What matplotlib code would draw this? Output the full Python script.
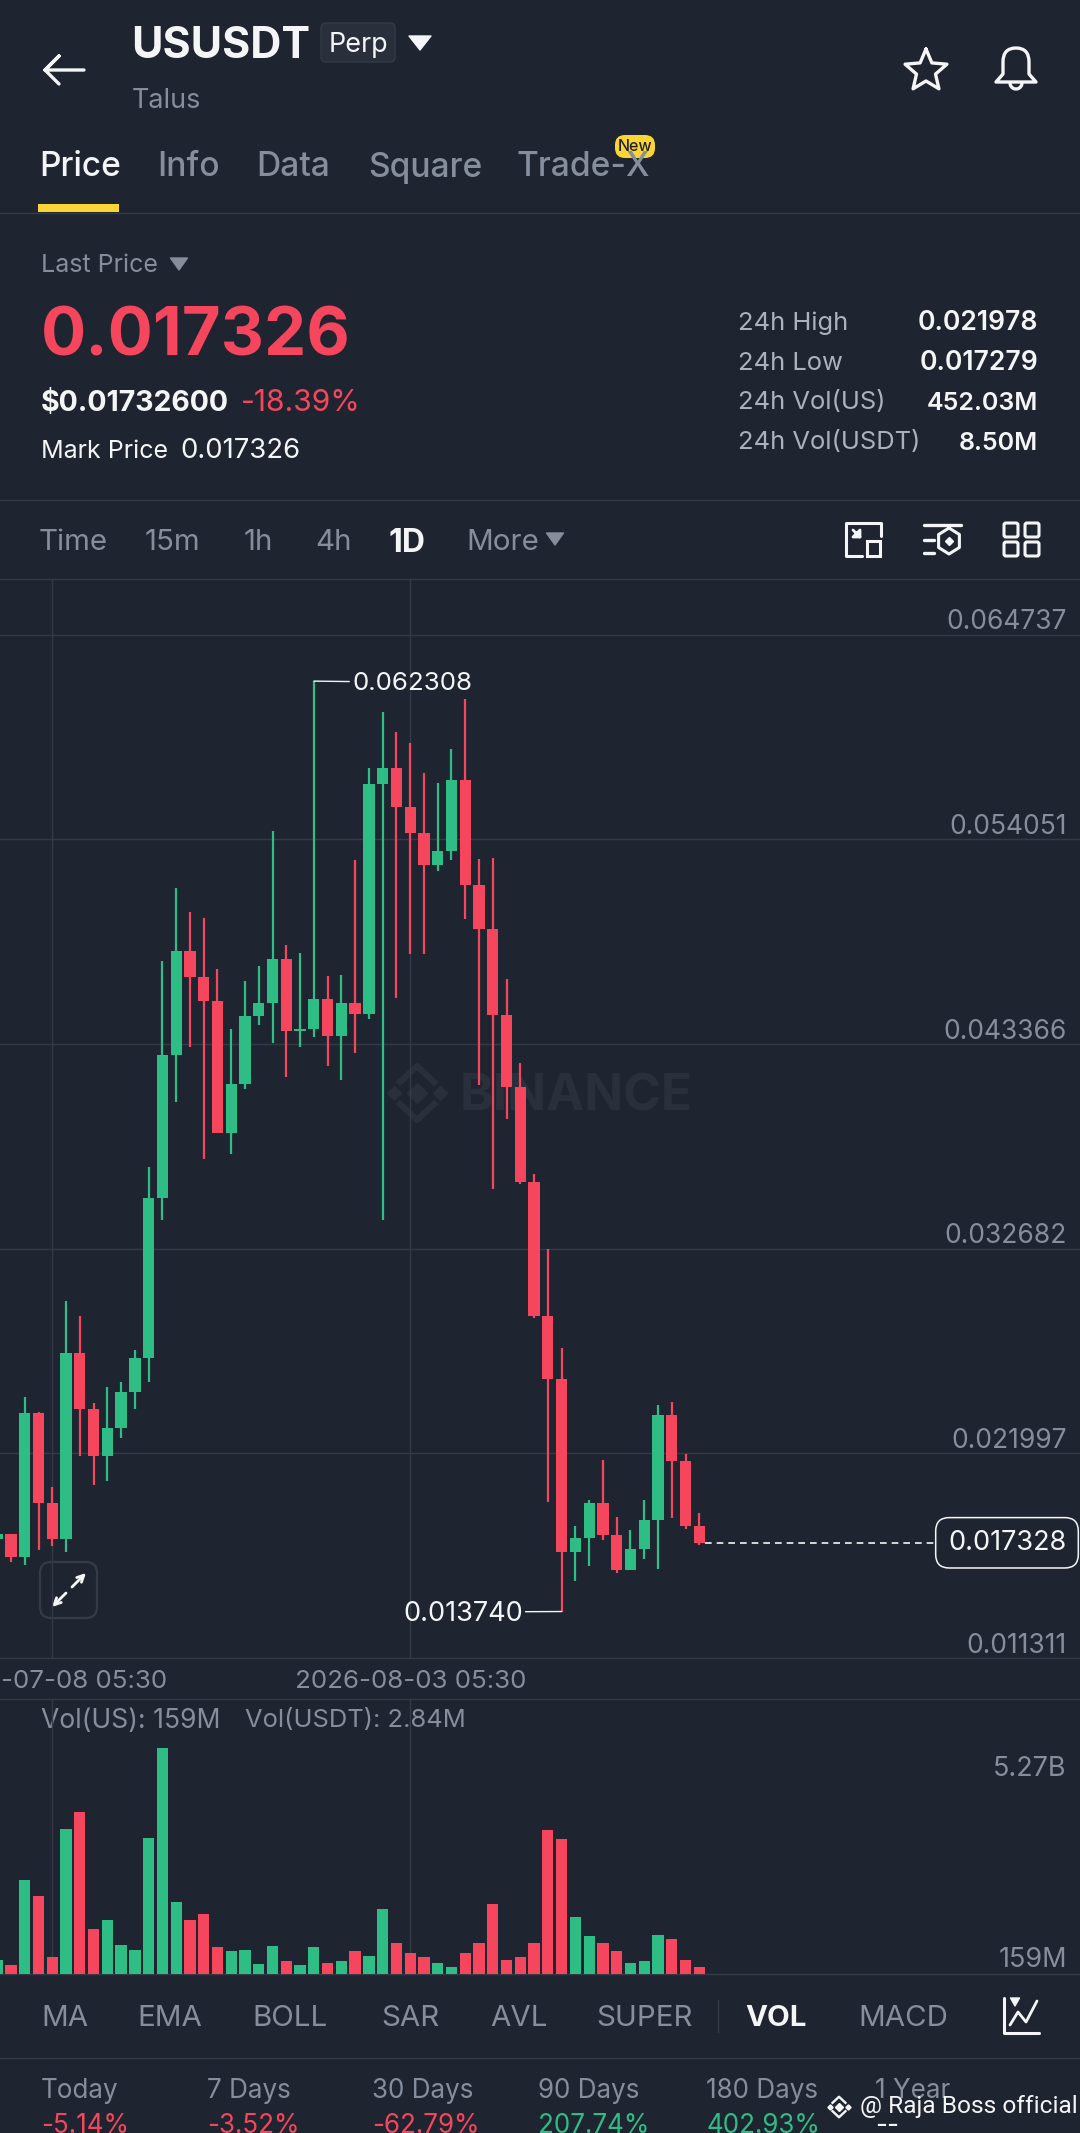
import numpy as np
import matplotlib
matplotlib.use("Agg")
import matplotlib.pyplot as plt
from matplotlib.patches import FancyBboxPatch, Rectangle, Polygon, PathPatch
from matplotlib.path import Path
from matplotlib.transforms import Bbox, IdentityTransform, TransformedBbox

plt.rcParams["font.family"] = ["Inter", "DejaVu Sans"]

BG = "#1f2530"
GRID = "#343b46"
GREY = "#848e9c"
WHITE = "#f4f5f6"
RED = "#f6465d"
GREEN = "#2ebd85"
YELLOW = "#fcd535"
MARK = "#2a303b"

# daily candles, first one is cut by the left edge
opens = [
    .017526, .017772, .016571, .024120, .019421, .017526, .027235, .024297, .021874, .023336,
    .025200, .026974, .035342, .042791, .048235, .046863, .045610, .038719, .041277, .044827,
    .045490, .047787, .044059, .044164, .045714, .043783, .045505, .044931, .056953, .057772,
    .055721, .054364, .052693, .053424, .057130, .051649, .049353, .044879, .041136, .036167,
    .029172, .025878, .016848, .017584, .019431, .017709, .015918, .016978, .018518, .024009,
    .021608, .018226,
]
closes = [
    .017772, .016571, .024088, .019421, .017526, .027235, .024297, .021874, .023336, .025200,
    .026974, .035342, .042791, .048235, .046863, .045610, .038719, .041277, .044827, .045490,
    .047787, .044059, .044148, .045714, .043783, .045505, .044931, .056953, .057772, .055721,
    .054364, .052693, .053424, .057130, .051649, .049353, .044879, .041136, .036167, .029172,
    .025878, .016848, .017584, .019431, .017709, .015918, .016978, .018518, .024009, .021608,
    .018226, .017328,
]
highs = [
    .017772, .017772, .024923, .024156, .020225, .029965, .029182, .024610, .025445, .025737,
    .027392, .036960, .047682, .051493, .050271, .049958, .047265, .044148, .046654, .047452,
    .054468, .048533, .048100, .062308, .046915, .046967, .052970, .057757, .060696, .059636,
    .059062, .057496, .056989, .058749, .061359, .053007, .053090, .046743, .042389, .036590,
    .032649, .027486, .018184, .019541, .021650, .018680, .017986, .019541, .024542, .024688,
    .021942, .018862,
]
lows = [
    .017526, .016341, .016169, .016952, .017176, .016832, .021859, .020345, .020554, .022814,
    .024312, .025737, .034178, .040338, .043193, .037362, .038719, .037608, .041016, .044357,
    .043402, .041643, .043209, .043746, .042217, .041502, .042895, .044670, .034178, .045751,
    .048079, .048079, .052411, .052970, .049906, .041225, .035796, .039466, .036036, .029078,
    .019468, .013740, .015313, .016117, .017490, .015772, .015882, .016503, .015955, .018607,
    .018038, .017234,
]
volumes = [
    327, 210, 2183, 1809, 374, 3368, 3765, 1037, 1240, 655,
    546, 3165, 5270, 1668, 1240, 1380, 624, 515, 546, 218,
    639, 296, 187, 631, 242, 296, 530, 405, 1505, 709,
    476, 374, 234, 148, 468, 702, 1622, 304, 374, 709,
    3345, 3150, 1318, 865, 709, 522, 257, 296, 897, 803,
    304, 159,
]

price_ticks = [0.064737, 0.054051, 0.043366, 0.032682, 0.021997, 0.011311]
date_idx = [4, 30]
date_labels = ["2026-07-08 05:30", "2026-08-03 05:30"]
last_price = 0.017328
high_idx, high_val = 23, 0.062308
low_idx, low_val = 41, 0.013740

tabs = ["Price", "Info", "Data", "Square", "Trade-X"]
periods = ["Time", "15m", "1h", "4h", "1D", "More"]
indicators = ["MA", "EMA", "BOLL", "SAR", "AVL", "SUPER", "VOL", "MACD"]
stat_names = ["24h High", "24h Low", "24h Vol(US)", "24h Vol(USDT)"]
stat_values = ["0.021978", "0.017279", "452.03M", "8.50M"]
perf_names = ["Today", "7 Days", "30 Days", "90 Days", "180 Days", "1 Year"]
perf_values = ["-5.14%", "-3.52%", "-62.79%", "207.74%", "402.93%", "--"]

W, H = 1080, 2133
fig = plt.figure(figsize=(W / 100, H / 100), dpi=100, facecolor=BG)

# everything that is app chrome goes on this one, in screen pixels
ui = fig.add_axes([0, 0, 1, 1], zorder=0)
ui.set_xlim(0, W)
ui.set_ylim(H, 0)
ui.axis("off")


def put(x, y, s, px, color=GREY, weight="normal", ha="left", family=None):
    ui.text(x, y + 4, s, fontsize=px * 0.72, color=color, fontweight=weight, ha=ha, va="center",
            clip_on=True, family=family or ["Inter", "DejaVu Sans"])


def stroke(xs, ys, color=WHITE, lw=2.0):
    ui.plot(xs, ys, color=color, lw=lw, solid_capstyle="round", solid_joinstyle="round")


def tri(x, y, w, h, color):
    ui.add_patch(Polygon([(x - w / 2, y - h / 2), (x + w / 2, y - h / 2), (x, y + h / 2)],
                         fc=color, ec=color, lw=1, joinstyle="round"))


def box(x0, y0, x1, y1, r, fc="none", ec=WHITE, lw=1.5):
    ui.add_patch(FancyBboxPatch((x0 + r, y0 + r), x1 - x0 - 2 * r, y1 - y0 - 2 * r,
                                boxstyle=f"round,pad={r},rounding_size={r}", fc=fc, ec=ec, lw=lw))


def logo(cx, cy, k, color):
    ui.plot([cx], [cy], marker="D", ms=10 * k, color=color, ls="none")
    ui.plot([cx - 23 * k, cx + 23 * k], [cy, cy], marker="D", ms=7 * k, color=color, ls="none")
    for sign in (-1, 1):
        ui.plot([cx - 17 * k, cx, cx + 17 * k], [cy + sign * 11 * k, cy + sign * 27 * k, cy + sign * 11 * k],
                color=color, lw=4.5 * k)


# separators
for y in [212.5, 500, 579, 1699, 1973.5, 2058]:
    ui.plot([0, W], [y, y], color=GRID, lw=1.0)

# header
stroke([84, 45, 59, 45, 59], [70, 70, 56, 70, 84], lw=2.4)
put(131, 42, "USUSDT", 43, WHITE, "bold")
box(321, 23, 395, 62, 5, fc=MARK, ec=GRID, lw=1)
put(358, 40.5, "Perp", 27, WHITE, ha="center")
tri(420, 43, 22, 14, WHITE)
put(132, 96.5, "Talus", 27)

ang = np.linspace(-np.pi / 2, 1.5 * np.pi, 11)
rad = np.tile([22, 10], 6)[:11]
stroke(926 + rad * np.cos(ang), 71 + rad * np.sin(ang), lw=2.4)

bell = Path(
    [(996, 82), (1003, 74), (1003, 62), (1003, 48), (1016, 48), (1029, 48), (1029, 62), (1029, 74), (1036, 82), (996, 82)],
    [Path.MOVETO, Path.LINETO, Path.LINETO, Path.CURVE3, Path.CURVE3, Path.CURVE3, Path.CURVE3, Path.LINETO, Path.LINETO, Path.CLOSEPOLY],
)
ui.add_patch(PathPatch(bell, fc="none", ec=WHITE, lw=2.4, joinstyle="round"))
ca = np.linspace(0, np.pi, 12)
stroke(1016 + 6 * np.cos(ca), 83 + 6 * np.sin(ca), lw=2.4)

# tabs
tab_x = [39, 157, 256, 368, 516]
for i, (x, t) in enumerate(zip(tab_x, tabs)):
    put(x, 163.5, t, 33.5, WHITE if i == 0 else GREY, "medium")
ui.add_patch(Rectangle((38, 204), 81, 8, fc=YELLOW, ec="none"))
box(615, 135, 655, 158, 10, fc=YELLOW, ec="none", lw=0)
put(635, 142.5, "New", 16, "#1e2329", "medium", ha="center")

# price block
put(41, 261.5, "Last Price", 25)
tri(179, 264, 17, 12, GREY)
put(41, 334.5, "0.017326", 67, RED, "bold")
put(41, 399, "$0.01732600", 28.5, WHITE, "bold")
put(241, 399, "-18.39%", 30, RED)
put(41, 447.5, "Mark Price", 25, WHITE)
put(180, 447.5, "0.017326", 27.5, WHITE)

stat_y = [319, 359, 399, 439]
for y, name, val in zip(stat_y, stat_names, stat_values):
    put(738, y, name, 25.5, "#aab2bd")
    put(1038, y, val, 25 if "M" in val else 26.5, WHITE, "semibold", ha="right")

# period row
period_x = [39, 145, 244, 315, 389, 466]
for x, t in zip(period_x, periods):
    put(x, 539, t, 32 if t == "1D" else 29.5, WHITE if t == "1D" else GREY, "bold" if t == "1D" else "normal")
tri(555, 539, 17, 12, GREY)

stroke([846, 846, 862], [540, 556, 556], lw=2.2)
stroke([846, 846, 881, 881], [540, 523, 523, 536], lw=2.2)
ui.add_patch(Rectangle((867, 541), 13, 15, fc="none", ec=WHITE, lw=2.2))
stroke([853, 860, 860, 853, 860], [530, 537, 530, 537, 537], lw=2.0)

stroke([924, 961], [525, 525], lw=2.4)
stroke([924, 934], [540, 540], lw=2.4)
stroke([924, 934], [553, 553], lw=2.4)
ha = np.linspace(-np.pi / 2, 1.5 * np.pi, 7)
stroke(949 + 12 * np.cos(ha), 541 + 13 * np.sin(ha), lw=2.2)
ui.plot([949], [541], marker="D", ms=4, color=WHITE)

for bx in [1004, 1025]:
    for by in [523, 542]:
        box(bx, by, bx + 14, by + 14, 2, lw=2.2)

# watermark, sits under the candles
logo(417, 1093, 1.0, MARK)
put(460, 1093, "BINANCE", 51, MARK, "bold")

# expand button
box(40, 1562, 97, 1618, 11, ec="#363c47", lw=1.6)
ui.annotate("", xy=(86, 1573), xytext=(72, 1587),
            arrowprops=dict(arrowstyle="->", color=WHITE, lw=2, mutation_scale=12, shrinkA=0, shrinkB=0))
ui.annotate("", xy=(52, 1607), xytext=(66, 1593),
            arrowprops=dict(arrowstyle="->", color=WHITE, lw=2, mutation_scale=12, shrinkA=0, shrinkB=0))

# candles
idx = np.arange(len(opens))
colors = [GREEN if c >= o else RED for o, c in zip(opens, closes)]
px_per_bar = 13.765
x_left = 2.75 / px_per_bar
x_right = (W + 2.75) / px_per_bar

ax = fig.add_axes([0, 1 - 1659 / H, 1, (1659 - 580) / H], zorder=1)
ax.patch.set_alpha(0)
ax.set_xlim(x_left, x_right)
ax.set_ylim(0.011262, 0.067586)
for s in ax.spines.values():
    s.set_visible(False)
ax.set_yticks(price_ticks)
ax.set_yticklabels([])
ax.set_xticks(date_idx)
ax.set_xticklabels(date_labels, fontsize=18.7, color=GREY)
ax.tick_params(length=0, pad=8)
ax.grid(True, color=GRID, lw=1.0)
ax.set_axisbelow(True)
# the first date runs off the screen, keep only what the phone shows
for tl in ax.get_xticklabels():
    tl.set_clip_on(True)
    tl.set_clip_box(TransformedBbox(Bbox([[2, 0], [W, H]]), IdentityTransform()))

ax.vlines(idx, lows, highs, color=colors, lw=1.6)
ax.bar(idx, np.abs(np.array(closes) - np.array(opens)), bottom=np.minimum(opens, closes), width=0.82, color=colors)

for v in price_ticks:
    ax.annotate(f"{v:.6f}", xy=(1, v), xycoords=("axes fraction", "data"), xytext=(-9.5, -0.5),
                textcoords="offset points", ha="right", va="bottom", fontsize=19, color=GREY)

ax.annotate(f"{high_val:.6f}", xy=(high_idx, high_val), xytext=(27.5, -2), textcoords="offset points", va="center", ha="left",
            fontsize=18.7, color=WHITE, arrowprops=dict(arrowstyle="-", color=WHITE, lw=1, shrinkA=0, shrinkB=0, relpos=(0, 0.6)))
ax.annotate(f"{low_val:.6f}", xy=(low_idx, low_val), xytext=(-28, -2), textcoords="offset points", va="center", ha="right",
            fontsize=19.5, color=WHITE, arrowprops=dict(arrowstyle="-", color=WHITE, lw=1, shrinkA=0, shrinkB=0, relpos=(1, 0.6)))

ax.plot([705 / W, 935 / W], [last_price, last_price], transform=ax.get_yaxis_transform(), color=WHITE, lw=1.2, dashes=(4, 3))
ax.annotate(f"{last_price:.6f}", xy=(1007 / W, last_price), xycoords=("axes fraction", "data"), ha="center", va="center",
            fontsize=19.5, color=WHITE, bbox=dict(boxstyle="round,pad=0.45,rounding_size=0.5", fc=BG, ec=WHITE, lw=1.1))

# volume
vol = fig.add_axes([0, 1 - 1973.5 / H, 1, (1973.5 - 1699) / H], zorder=1)
vol.patch.set_alpha(0)
vol.set_xlim(x_left, x_right)
vol.set_ylim(0, 6416)
for s in vol.spines.values():
    s.set_visible(False)
vol.set_xticks(date_idx)
vol.set_xticklabels([])
vol.set_yticks([])
vol.tick_params(length=0)
vol.grid(True, axis="x", color=GRID, lw=1.0)
vol.set_axisbelow(True)
vol.bar(idx, volumes, width=0.82, color=colors)
vol.annotate("5.27B", xy=(1, max(volumes)), xycoords=("axes fraction", "data"), xytext=(-9.5, -15),
             textcoords="offset points", ha="right", va="center", fontsize=19.5, color=GREY)
vol.annotate("159M", xy=(1, volumes[-1]), xycoords=("axes fraction", "data"), xytext=(-9.5, 5),
             textcoords="offset points", ha="right", va="center", fontsize=19.5, color=GREY)

put(41, 1717, "Vol(US): 159M", 26.5)
put(245, 1717, "Vol(USDT): 2.84M", 25.5)

# indicator row
ind_x = [41, 137, 252, 381, 490, 596, 745, 858]
for x, t in zip(ind_x, indicators):
    put(x, 2015, t, 29.5, WHITE if t == "VOL" else GREY, "bold" if t == "VOL" else "normal")
ui.plot([718, 718], [2000, 2032], color=GRID, lw=1)
stroke([1004, 1004, 1039], [1998, 2033, 2033], lw=2.2)
stroke([1010, 1018, 1026, 1037], [2025, 2012, 2022, 2001], lw=2.0)
tri(1015, 2002, 9, 8, WHITE)

# performance row
perf_x = [41, 207, 372, 538, 706, 875]
for x, name, val in zip(perf_x, perf_names, perf_values):
    put(x, 2087.5, name, 26)
    col = WHITE if val == "--" else (RED if val.startswith("-") else GREEN)
    put(x, 2122, val, 26, col)

# repost mark
logo(839, 2107, 0.38, WHITE)
put(860, 2103, "@ Raja Boss official", 24.5, WHITE, family=["Roboto", "DejaVu Sans"])

fig.savefig("out.png", dpi=100, facecolor=BG)
